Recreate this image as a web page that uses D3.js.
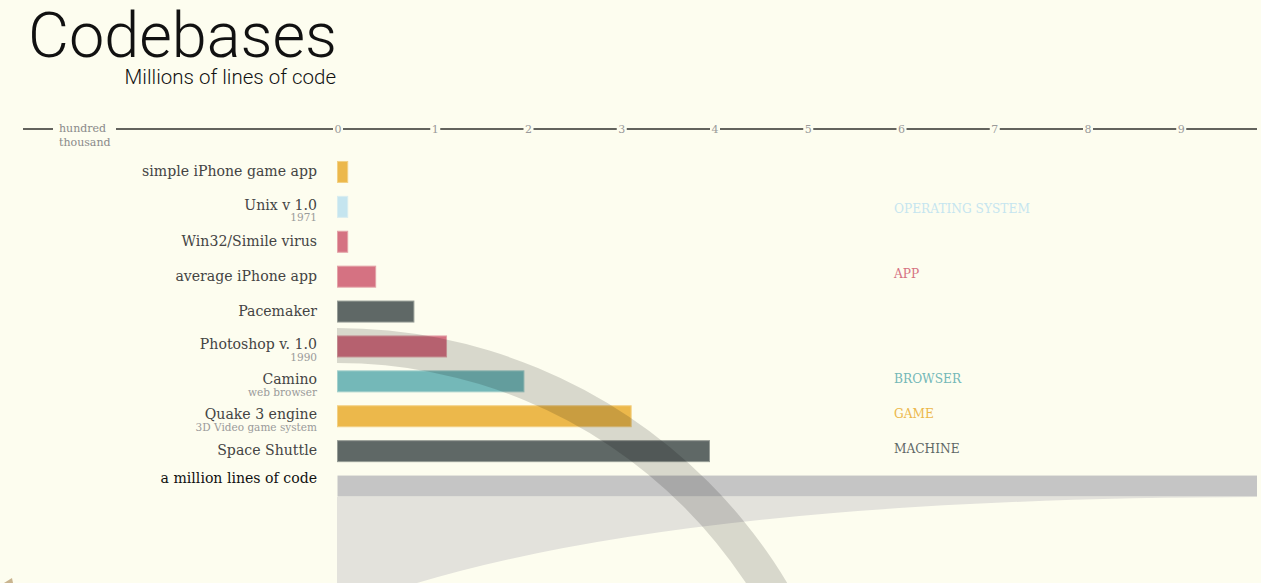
<!DOCTYPE html>
<html><head><meta charset="utf-8">
<script src="https://cdn.jsdelivr.net/npm/d3@7"></script>
<style>
html,body{margin:0;padding:0;background:#fdfdef;overflow:hidden}
svg{display:block}
</style></head><body>
<svg id="c" width="1257" height="583"></svg>
<script>
// ---- data ----
const items = ["simple iPhone game app","Unix v 1.0","Win32/Simile virus","average iPhone app","Pacemaker","Photoshop v. 1.0","Camino","Quake 3 engine","Space Shuttle","a million lines of code"];
const subLabels = ["","1971","","","","1990","web browser","3D Video game system","",""];
// hundred-thousands of lines of code
const values = [0.12, 0.12, 0.12, 0.42, 0.83, 1.18, 2.01, 3.16, 4.0, 10];
const categories = ["game","os","app","app","machine","app","browser","game","machine","million"];
const legendKeys = ["os","app","browser","game","machine"];
const legendLabels = ["OPERATING SYSTEM","APP","BROWSER","GAME","MACHINE"];
const legendAnchors = ["Unix v 1.0","average iPhone app","Camino","Quake 3 engine","Space Shuttle"];
const tickValues = [0,1,2,3,4,5,6,7,8,9];
const unitLabel = ["hundred","thousand"];

// ---- styles ----
const BG = "#fdfdef";
const colors = {game:"#ecb84b", os:"#c5e5ef", app:"#d57282", browser:"#74b8b8", machine:"#5f6866", million:"#c5c5c5"};
const SERIF = "'DejaVu Serif', serif";

const svg = d3.select("#c");
const W = 1257, H = 583;

const x = d3.scaleLinear().domain([0,10]).range([337, 1269.5]);
const y = d3.scaleBand().domain(items).range([154.5, 503.5]).paddingInner(0.37).paddingOuter(0.185);

// ---- funnel below the million band ----
const mBottom = y(items[9]) + y.bandwidth();
const fp = d3.path();
fp.moveTo(x(0), mBottom);
fp.lineTo(x(10), mBottom);
fp.quadraticCurveTo(703, mBottom, 417, H);
fp.lineTo(x(0), H);
fp.closePath();
svg.append("path").attr("d", fp.toString()).attr("fill", "#e3e2dc");

// ---- bars ----
svg.append("g").selectAll("rect").data(items).join("rect")
  .attr("x", x(0) + 0.5)
  .attr("y", d => y(d) + 0.5)
  .attr("width", (d,i) => Math.max(0, x(values[i]) - x(0) - 1))
  .attr("height", y.bandwidth() - 1)
  .attr("fill", (d,i) => colors[categories[i]])
  .attr("stroke", (d,i) => categories[i] === "million" ? "none" : d3.interpolateRgb(colors[categories[i]], BG)(0.35))
  .attr("stroke-width", 1);

// ---- sweeping arc overlay ----
const arcGen = d3.arc().innerRadius(490).outerRadius(525).startAngle(0).endAngle(Math.PI/2);
svg.append("path")
  .attr("transform", `translate(${x(0)},853)`)
  .attr("d", arcGen())
  .attr("fill", "#000").attr("fill-opacity", 0.146);

// ---- labels ----
const lab = svg.append("g").attr("font-family", SERIF);
items.forEach((d,i) => {
  const cy = y(d) + y.bandwidth()/2;
  const hasSub = subLabels[i] !== "";
  const isM = categories[i] === "million";
  lab.append("text")
    .attr("x", 317).attr("y", isM ? cy - 3 : (hasSub ? cy + 3 : cy + 4))
    .attr("text-anchor", "end")
    .attr("font-size", 14.1)
    .attr("fill", isM ? "#111" : "#444")
    .text(d);
  if (hasSub) {
    lab.append("text")
      .attr("x", 317).attr("y", cy + 14.5)
      .attr("text-anchor", "end")
      .attr("font-size", 10.5)
      .attr("fill", "#9a9a9a")
      .text(subLabels[i]);
  }
});

// ---- axis ----
const ax = svg.append("g").attr("font-family", SERIF);
const axY = 129;
ax.append("line").attr("x1", 23).attr("x2", W).attr("y1", axY).attr("y2", axY)
  .attr("stroke", "#63635d").attr("stroke-width", 2);
ax.append("rect").attr("x", 53).attr("y", axY - 6).attr("width", 63).attr("height", 12).attr("fill", BG);
unitLabel.forEach((t,i) => {
  ax.append("text").attr("x", 59).attr("y", 132 + i*14)
    .attr("font-size", 11).attr("fill", "#8a8a8a").text(t);
});
tickValues.forEach(v => {
  const tx = x(v) + (v === 0 ? 1 : 5);
  ax.append("rect").attr("x", tx - 5).attr("y", axY - 6).attr("width", 10).attr("height", 12).attr("fill", BG);
  ax.append("text").attr("x", tx).attr("y", axY + 4)
    .attr("text-anchor", "middle").attr("font-size", 11).attr("fill", "#9a9a9a").text(v);
});

// ---- legend ----
const lg = svg.append("g").attr("font-family", SERIF);
legendKeys.forEach((k,i) => {
  const cy = y(legendAnchors[i]) + y.bandwidth()/2;
  lg.append("text").attr("x", 894).attr("y", cy + (k === "os" ? 6 : 1.5))
    .attr("font-size", 12.2).attr("fill", colors[k]).text(legendLabels[i]);
});

// ---- title ----
svg.append("text").attr("x", 28).attr("y", 57)
  .attr("font-family", "Roboto, 'Open Sans', sans-serif").attr("font-weight", 300)
  .attr("font-size", 63).attr("fill", "#111").text("Codebases");
svg.append("text").attr("x", 336).attr("y", 84).attr("text-anchor", "end")
  .attr("font-family", "Roboto, 'Open Sans', sans-serif").attr("font-weight", 300)
  .attr("font-size", 20.5).attr("fill", "#111").text("Millions of lines of code");

// small corner mark bottom-left
svg.append("path").attr("d", "M4,583 L12,578 L13,583 Z").attr("fill", "#c9b48f");
</script>
</body></html>
